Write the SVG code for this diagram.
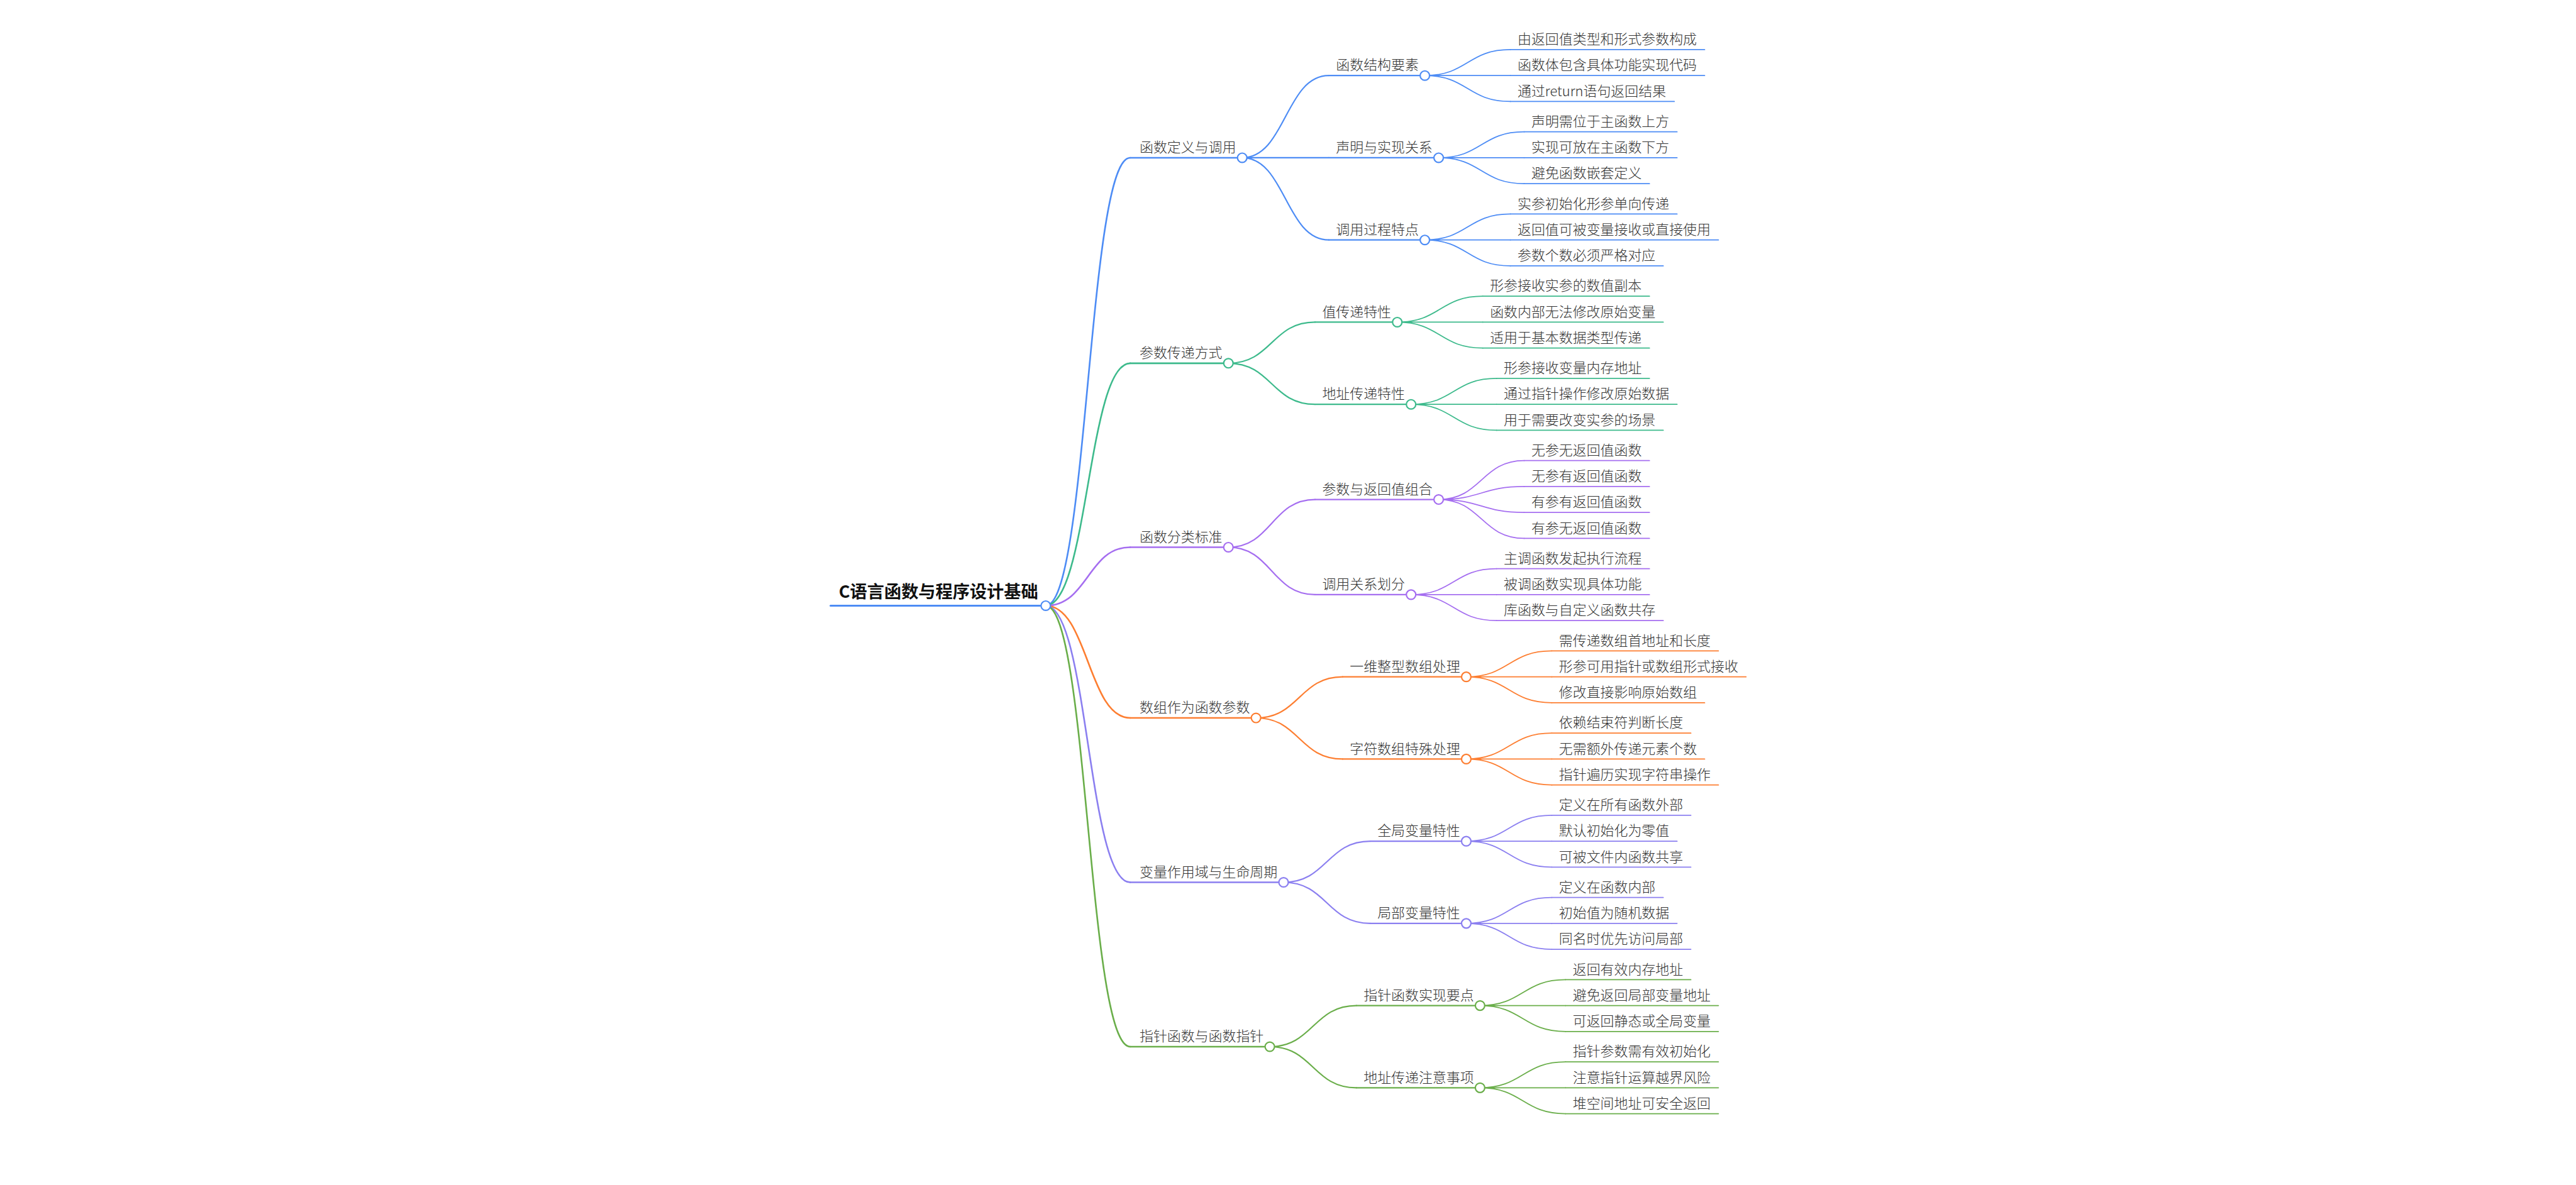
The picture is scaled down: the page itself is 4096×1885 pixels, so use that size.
<svg xmlns="http://www.w3.org/2000/svg" width="4096" height="1885" viewBox="0 0 4096 1885">
<style>
text{font-family:"Noto Sans CJK SC","Noto Sans",sans-serif;font-size:25px;font-weight:300;fill:#333}
.root text{font-size:31px;font-weight:bold;fill:#111}
path{fill:none;stroke-linecap:round}
circle{fill:#fff;stroke-width:2.5}
.w0{stroke-width:3.5}.w1{stroke-width:3}.w2{stroke-width:2.5}.w3{stroke-width:2}
.c1 path,.c1 circle,path.c1{stroke:#4d8cf5}
.c2 path,.c2 circle,path.c2{stroke:#3dba8c}
.c3 path,.c3 circle,path.c3{stroke:#a56ef0}
.c4 path,.c4 circle,path.c4{stroke:#fd7e31}
.c5 path,.c5 circle,path.c5{stroke:#8b7ff0}
.c6 path,.c6 circle,path.c6{stroke:#6aae4a}
</style>
<rect width="4096" height="1885" fill="#fff"/>
<g transform="scale(0.877464)">
<g id="connectors">
<path class="c1 w1" d="M1895 1098C1971.5 1098 1971.5 286 2048 286"/>
<path class="c2 w1" d="M1895 1098C1971.5 1098 1971.5 658.5 2048 658.5"/>
<path class="c3 w1" d="M1895 1098C1971.5 1098 1971.5 992 2048 992"/>
<path class="c4 w1" d="M1895 1098C1971.5 1098 1971.5 1301.5 2048 1301.5"/>
<path class="c5 w1" d="M1895 1098C1971.5 1098 1971.5 1599.5 2048 1599.5"/>
<path class="c6 w1" d="M1895 1098C1971.5 1098 1971.5 1897.5 2048 1897.5"/>
<path class="c1 w2" d="M2251 286C2329.5 286 2329.5 137 2408 137M2251 286H2408M2251 286C2329.5 286 2329.5 435 2408 435"/>
<path class="c2 w2" d="M2226 658.5C2304.5 658.5 2304.5 584 2383 584M2226 658.5C2304.5 658.5 2304.5 733 2383 733"/>
<path class="c3 w2" d="M2226 992C2304.5 992 2304.5 905.5 2383 905.5M2226 992C2304.5 992 2304.5 1078 2383 1078"/>
<path class="c4 w2" d="M2276 1301.5C2354.5 1301.5 2354.5 1227 2433 1227M2276 1301.5C2354.5 1301.5 2354.5 1376 2433 1376"/>
<path class="c5 w2" d="M2326 1599.5C2404.5 1599.5 2404.5 1525 2483 1525M2326 1599.5C2404.5 1599.5 2404.5 1674 2483 1674"/>
<path class="c6 w2" d="M2301 1897.5C2379.5 1897.5 2379.5 1823 2458 1823M2301 1897.5C2379.5 1897.5 2379.5 1972 2458 1972"/>
<path class="c1 w3" d="M2582 137C2659.5 137 2659.5 90 2737 90M2582 137H2737M2582 137C2659.5 137 2659.5 184 2737 184"/>
<path class="c1 w3" d="M2607 286C2684.5 286 2684.5 239 2762 239M2607 286H2762M2607 286C2684.5 286 2684.5 333 2762 333"/>
<path class="c1 w3" d="M2582 435C2659.5 435 2659.5 388 2737 388M2582 435H2737M2582 435C2659.5 435 2659.5 482 2737 482"/>
<path class="c2 w3" d="M2532 584C2609.5 584 2609.5 537 2687 537M2532 584H2687M2532 584C2609.5 584 2609.5 631 2687 631"/>
<path class="c2 w3" d="M2557 733C2634.5 733 2634.5 686 2712 686M2557 733H2712M2557 733C2634.5 733 2634.5 780 2712 780"/>
<path class="c3 w3" d="M2607 905.5C2684.5 905.5 2684.5 835 2762 835M2607 905.5C2684.5 905.5 2684.5 882 2762 882M2607 905.5C2684.5 905.5 2684.5 929 2762 929M2607 905.5C2684.5 905.5 2684.5 976 2762 976"/>
<path class="c3 w3" d="M2557 1078C2634.5 1078 2634.5 1031 2712 1031M2557 1078H2712M2557 1078C2634.5 1078 2634.5 1125 2712 1125"/>
<path class="c4 w3" d="M2657 1227C2734.5 1227 2734.5 1180 2812 1180M2657 1227H2812M2657 1227C2734.5 1227 2734.5 1274 2812 1274"/>
<path class="c4 w3" d="M2657 1376C2734.5 1376 2734.5 1329 2812 1329M2657 1376H2812M2657 1376C2734.5 1376 2734.5 1423 2812 1423"/>
<path class="c5 w3" d="M2657 1525C2734.5 1525 2734.5 1478 2812 1478M2657 1525H2812M2657 1525C2734.5 1525 2734.5 1572 2812 1572"/>
<path class="c5 w3" d="M2657 1674C2734.5 1674 2734.5 1627 2812 1627M2657 1674H2812M2657 1674C2734.5 1674 2734.5 1721 2812 1721"/>
<path class="c6 w3" d="M2682 1823C2759.5 1823 2759.5 1776 2837 1776M2682 1823H2837M2682 1823C2759.5 1823 2759.5 1870 2837 1870"/>
<path class="c6 w3" d="M2682 1972C2759.5 1972 2759.5 1925 2837 1925M2682 1972H2837M2682 1972C2759.5 1972 2759.5 2019 2837 2019"/>
</g>

<g id="root" class="root c1"><path class="w0" d="M1505 1098H1895"/><text x="1520" y="1084">C语言函数与程序设计基础</text><circle cx="1895" cy="1098" r="8.5"/></g>

<g id="n1" class="c1"><path class="w1" d="M2048 286H2251"/><text x="2065" y="276">函数定义与调用</text><circle cx="2251" cy="286" r="8.5"/></g>
<g id="n1a" class="c1"><path class="w2" d="M2408 137H2582"/><text x="2421" y="127">函数结构要素</text><circle cx="2582" cy="137" r="8.5"/></g>
<g id="n1a1" class="c1"><path class="w3" d="M2737 90H3089"/><text x="2750" y="80">由返回值类型和形式参数构成</text></g>
<g id="n1a2" class="c1"><path class="w3" d="M2737 137H3089"/><text x="2750" y="127">函数体包含具体功能实现代码</text></g>
<g id="n1a3" class="c1"><path class="w3" d="M2737 184H3034"/><text x="2750" y="174">通过return语句返回结果</text></g>
<g id="n1b" class="c1"><path class="w2" d="M2408 286H2607"/><text x="2421" y="276">声明与实现关系</text><circle cx="2607" cy="286" r="8.5"/></g>
<g id="n1b1" class="c1"><path class="w3" d="M2762 239H3039"/><text x="2775" y="229">声明需位于主函数上方</text></g>
<g id="n1b2" class="c1"><path class="w3" d="M2762 286H3039"/><text x="2775" y="276">实现可放在主函数下方</text></g>
<g id="n1b3" class="c1"><path class="w3" d="M2762 333H2989"/><text x="2775" y="323">避免函数嵌套定义</text></g>
<g id="n1c" class="c1"><path class="w2" d="M2408 435H2582"/><text x="2421" y="425">调用过程特点</text><circle cx="2582" cy="435" r="8.5"/></g>
<g id="n1c1" class="c1"><path class="w3" d="M2737 388H3039"/><text x="2750" y="378">实参初始化形参单向传递</text></g>
<g id="n1c2" class="c1"><path class="w3" d="M2737 435H3114"/><text x="2750" y="425">返回值可被变量接收或直接使用</text></g>
<g id="n1c3" class="c1"><path class="w3" d="M2737 482H3014"/><text x="2750" y="472">参数个数必须严格对应</text></g>

<g id="n2" class="c2"><path class="w1" d="M2048 658.5H2226"/><text x="2065" y="648.5">参数传递方式</text><circle cx="2226" cy="658.5" r="8.5"/></g>
<g id="n2a" class="c2"><path class="w2" d="M2383 584H2532"/><text x="2396" y="574">值传递特性</text><circle cx="2532" cy="584" r="8.5"/></g>
<g id="n2a1" class="c2"><path class="w3" d="M2687 537H2989"/><text x="2700" y="527">形参接收实参的数值副本</text></g>
<g id="n2a2" class="c2"><path class="w3" d="M2687 584H3014"/><text x="2700" y="574">函数内部无法修改原始变量</text></g>
<g id="n2a3" class="c2"><path class="w3" d="M2687 631H2989"/><text x="2700" y="621">适用于基本数据类型传递</text></g>
<g id="n2b" class="c2"><path class="w2" d="M2383 733H2557"/><text x="2396" y="723">地址传递特性</text><circle cx="2557" cy="733" r="8.5"/></g>
<g id="n2b1" class="c2"><path class="w3" d="M2712 686H2989"/><text x="2725" y="676">形参接收变量内存地址</text></g>
<g id="n2b2" class="c2"><path class="w3" d="M2712 733H3039"/><text x="2725" y="723">通过指针操作修改原始数据</text></g>
<g id="n2b3" class="c2"><path class="w3" d="M2712 780H3014"/><text x="2725" y="770">用于需要改变实参的场景</text></g>

<g id="n3" class="c3"><path class="w1" d="M2048 992H2226"/><text x="2065" y="982">函数分类标准</text><circle cx="2226" cy="992" r="8.5"/></g>
<g id="n3a" class="c3"><path class="w2" d="M2383 905.5H2607"/><text x="2396" y="895.5">参数与返回值组合</text><circle cx="2607" cy="905.5" r="8.5"/></g>
<g id="n3a1" class="c3"><path class="w3" d="M2762 835H2989"/><text x="2775" y="825">无参无返回值函数</text></g>
<g id="n3a2" class="c3"><path class="w3" d="M2762 882H2989"/><text x="2775" y="872">无参有返回值函数</text></g>
<g id="n3a3" class="c3"><path class="w3" d="M2762 929H2989"/><text x="2775" y="919">有参有返回值函数</text></g>
<g id="n3a4" class="c3"><path class="w3" d="M2762 976H2989"/><text x="2775" y="966">有参无返回值函数</text></g>
<g id="n3b" class="c3"><path class="w2" d="M2383 1078H2557"/><text x="2396" y="1068">调用关系划分</text><circle cx="2557" cy="1078" r="8.5"/></g>
<g id="n3b1" class="c3"><path class="w3" d="M2712 1031H2989"/><text x="2725" y="1021">主调函数发起执行流程</text></g>
<g id="n3b2" class="c3"><path class="w3" d="M2712 1078H2989"/><text x="2725" y="1068">被调函数实现具体功能</text></g>
<g id="n3b3" class="c3"><path class="w3" d="M2712 1125H3014"/><text x="2725" y="1115">库函数与自定义函数共存</text></g>

<g id="n4" class="c4"><path class="w1" d="M2048 1301.5H2276"/><text x="2065" y="1291.5">数组作为函数参数</text><circle cx="2276" cy="1301.5" r="8.5"/></g>
<g id="n4a" class="c4"><path class="w2" d="M2433 1227H2657"/><text x="2446" y="1217">一维整型数组处理</text><circle cx="2657" cy="1227" r="8.5"/></g>
<g id="n4a1" class="c4"><path class="w3" d="M2812 1180H3114"/><text x="2825" y="1170">需传递数组首地址和长度</text></g>
<g id="n4a2" class="c4"><path class="w3" d="M2812 1227H3164"/><text x="2825" y="1217">形参可用指针或数组形式接收</text></g>
<g id="n4a3" class="c4"><path class="w3" d="M2812 1274H3089"/><text x="2825" y="1264">修改直接影响原始数组</text></g>
<g id="n4b" class="c4"><path class="w2" d="M2433 1376H2657"/><text x="2446" y="1366">字符数组特殊处理</text><circle cx="2657" cy="1376" r="8.5"/></g>
<g id="n4b1" class="c4"><path class="w3" d="M2812 1329H3064"/><text x="2825" y="1319">依赖结束符判断长度</text></g>
<g id="n4b2" class="c4"><path class="w3" d="M2812 1376H3089"/><text x="2825" y="1366">无需额外传递元素个数</text></g>
<g id="n4b3" class="c4"><path class="w3" d="M2812 1423H3114"/><text x="2825" y="1413">指针遍历实现字符串操作</text></g>

<g id="n5" class="c5"><path class="w1" d="M2048 1599.5H2326"/><text x="2065" y="1589.5">变量作用域与生命周期</text><circle cx="2326" cy="1599.5" r="8.5"/></g>
<g id="n5a" class="c5"><path class="w2" d="M2483 1525H2657"/><text x="2496" y="1515">全局变量特性</text><circle cx="2657" cy="1525" r="8.5"/></g>
<g id="n5a1" class="c5"><path class="w3" d="M2812 1478H3064"/><text x="2825" y="1468">定义在所有函数外部</text></g>
<g id="n5a2" class="c5"><path class="w3" d="M2812 1525H3039"/><text x="2825" y="1515">默认初始化为零值</text></g>
<g id="n5a3" class="c5"><path class="w3" d="M2812 1572H3064"/><text x="2825" y="1562">可被文件内函数共享</text></g>
<g id="n5b" class="c5"><path class="w2" d="M2483 1674H2657"/><text x="2496" y="1664">局部变量特性</text><circle cx="2657" cy="1674" r="8.5"/></g>
<g id="n5b1" class="c5"><path class="w3" d="M2812 1627H3014"/><text x="2825" y="1617">定义在函数内部</text></g>
<g id="n5b2" class="c5"><path class="w3" d="M2812 1674H3039"/><text x="2825" y="1664">初始值为随机数据</text></g>
<g id="n5b3" class="c5"><path class="w3" d="M2812 1721H3064"/><text x="2825" y="1711">同名时优先访问局部</text></g>

<g id="n6" class="c6"><path class="w1" d="M2048 1897.5H2301"/><text x="2065" y="1887.5">指针函数与函数指针</text><circle cx="2301" cy="1897.5" r="8.5"/></g>
<g id="n6a" class="c6"><path class="w2" d="M2458 1823H2682"/><text x="2471" y="1813">指针函数实现要点</text><circle cx="2682" cy="1823" r="8.5"/></g>
<g id="n6a1" class="c6"><path class="w3" d="M2837 1776H3064"/><text x="2850" y="1766">返回有效内存地址</text></g>
<g id="n6a2" class="c6"><path class="w3" d="M2837 1823H3114"/><text x="2850" y="1813">避免返回局部变量地址</text></g>
<g id="n6a3" class="c6"><path class="w3" d="M2837 1870H3114"/><text x="2850" y="1860">可返回静态或全局变量</text></g>
<g id="n6b" class="c6"><path class="w2" d="M2458 1972H2682"/><text x="2471" y="1962">地址传递注意事项</text><circle cx="2682" cy="1972" r="8.5"/></g>
<g id="n6b1" class="c6"><path class="w3" d="M2837 1925H3114"/><text x="2850" y="1915">指针参数需有效初始化</text></g>
<g id="n6b2" class="c6"><path class="w3" d="M2837 1972H3114"/><text x="2850" y="1962">注意指针运算越界风险</text></g>
<g id="n6b3" class="c6"><path class="w3" d="M2837 2019H3114"/><text x="2850" y="2009">堆空间地址可安全返回</text></g>
</g>
</svg>
